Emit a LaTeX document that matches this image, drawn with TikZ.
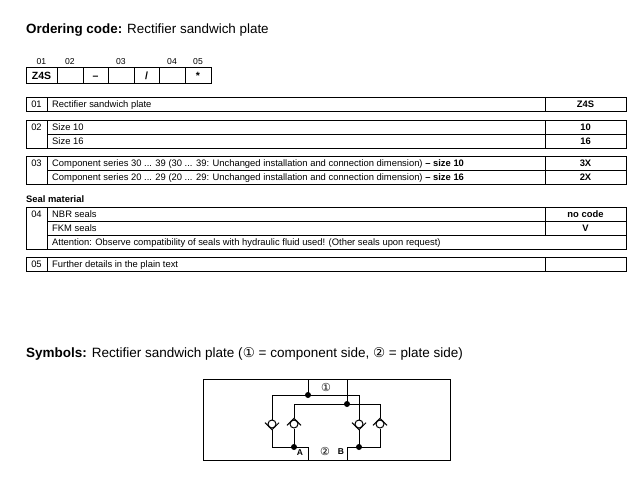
\documentclass[tikz,border=0pt]{standalone}
\usepackage{fontspec}
\setmainfont{Liberation Sans}
\newfontfamily\circfont{DejaVu Sans}
\usepackage{tikz}

\tikzset{
	tblline/.style={line width=0.8pt},
	rowtext/.style={anchor=base west, inner sep=0pt, font=\fontsize{9.4}{11}\selectfont},
	rownum/.style={anchor=base, inner sep=0pt, font=\fontsize{9.4}{11}\selectfont},
	codetext/.style={anchor=base, inner sep=0pt, font=\fontsize{9.4}{11}\selectfont\bfseries},
	pipe/.style={line width=1pt},
	ball/.style={circle, draw, line width=1pt, fill=white, inner sep=0pt, minimum size=8pt},
	junction/.style={circle, fill, inner sep=0pt, minimum size=6pt},
}

\begin{document}
\begin{tikzpicture}[x=1pt,y=-1pt]
\useasboundingbox (0,0) rectangle (640,477);

% ordering code
\node[anchor=base west, inner sep=0pt, font=\fontsize{13.4}{15}\selectfont] (title) at (26,33) {\textbf{Ordering code:} Rectifier sandwich plate};

\foreach \n/\x in {01/41.5,02/70,03/121,04/172,05/198}{
	\node[rownum, font=\fontsize{8.6}{10}\selectfont] (lab\n) at (\x,64) {\n};
}
\draw[tblline] (26,67) rectangle (211,83);
\foreach \x in {57,83,108,134,159,185}{
	\draw[tblline] (\x,67)--(\x,83);
}
\node[codetext, font=\fontsize{10.5}{12}\selectfont\bfseries] (cz4s) at (41.5,79) {Z4S};
\node[codetext, font=\fontsize{10.5}{12}\selectfont\bfseries] (cdash) at (95.5,79) {--};
\node[codetext, font=\fontsize{10.5}{12}\selectfont\bfseries] (cslash) at (146.5,79) {/};
\node[codetext, font=\fontsize{10.5}{12}\selectfont\bfseries] (cstar) at (198,79) {*};

% table frames
\foreach \t/\b in {97/111,120/148,156/184,257/271}{
	\draw[tblline] (26,\t) rectangle (626,\b);
	\draw[tblline] (47,\t)--(47,\b);
	\draw[tblline] (545,\t)--(545,\b);
}
\draw[tblline] (47,134)--(626,134);
\draw[tblline] (47,170)--(626,170);

\draw[tblline] (26,207) rectangle (626,249);
\draw[tblline] (47,207)--(47,249);
\draw[tblline] (545,207)--(545,235);
\draw[tblline] (47,221)--(626,221);
\draw[tblline] (47,235)--(626,235);

% table texts
\node[rownum] (n01) at (36.5,107.5) {01};
\node[rowtext] (t01) at (52,107.5) {Rectifier sandwich plate};
\node[codetext] (k01) at (585.5,107.5) {Z4S};

\node[rownum] (n02) at (36.5,130.5) {02};
\node[rowtext] (t02a) at (52,130.5) {Size 10};
\node[rowtext] (t02b) at (52,144.5) {Size 16};
\node[codetext] (k02a) at (585.5,130.5) {10};
\node[codetext] (k02b) at (585.5,144.5) {16};

\node[rownum] (n03) at (36.5,166.5) {03};
\node[rowtext] (t03a) at (52,166.5) {Component series 30 ... 39 (30 ... 39: Unchanged installation and connection dimension) \textbf{-- size 10}};
\node[rowtext] (t03b) at (52,180.5) {Component series 20 ... 29 (20 ... 29: Unchanged installation and connection dimension) \textbf{-- size 16}};
\node[codetext] (k03a) at (585.5,166.5) {3X};
\node[codetext] (k03b) at (585.5,180.5) {2X};

\node[rowtext, font=\fontsize{9.4}{11}\selectfont\bfseries] (seal) at (26,202.5) {Seal material};

\node[rownum] (n04) at (36.5,217.5) {04};
\node[rowtext] (t04a) at (52,217.5) {NBR seals};
\node[rowtext] (t04b) at (52,231.5) {FKM seals};
\node[rowtext] (t04c) at (52,245.5) {Attention: Observe compatibility of seals with hydraulic fluid used! (Other seals upon request)};
\node[codetext] (k04a) at (585.5,217.5) {no code};
\node[codetext] (k04b) at (585.5,231.5) {V};

\node[rownum] (n05) at (36.5,267.5) {05};
\node[rowtext] (t05) at (52,267.5) {Further details in the plain text};

% symbols
\node[anchor=base west, inner sep=0pt, font=\fontsize{13.5}{15}\selectfont] (symtitle) at (26,357) {\textbf{Symbols:} Rectifier sandwich plate ({\circfont ①} = component side, {\circfont ②} = plate side)};

\draw[pipe] (203,379) rectangle (450,460);

\coordinate (t1) at (308,379);
\coordinate (t2) at (347,379);
\coordinate (al) at (272,395);
\coordinate (ar) at (359,395);
\coordinate (bl) at (294,404);
\coordinate (br) at (380,404);
\coordinate (ll) at (272,447);
\coordinate (pa) at (308,447);
\coordinate (pab) at (308,460);
\coordinate (pb) at (347,447);
\coordinate (pbb) at (347,460);
\coordinate (rr) at (380,447);

% check valves
\foreach \n/\x in {v1/272,v3/359}{
	\node[ball] (\n) at (\x,424) {};
	\draw[pipe] (\x-7,422.7)--(\x,429.7)--(\x+7,422.7);
	\coordinate (\n-s) at (\x,429.7);
}
\foreach \n/\x in {v2/294,v4/380}{
	\node[ball] (\n) at (\x,424) {};
	\draw[pipe] (\x-7,425.3)--(\x,418.3)--(\x+7,425.3);
	\coordinate (\n-s) at (\x,418.3);
}

\node[junction] (j1) at (308,395) {};
\node[junction] (j2) at (347,404) {};
\node[junction] (j3) at (294,447) {};
\node[junction] (j4) at (359,447) {};

\draw[pipe] (t1)--(j1.center);
\draw[pipe] (t2)--(j2.center);
\draw[pipe] (v1)--(al)--(ar)--(v3);
\draw[pipe] (v2-s)--(bl)--(br)--(v4-s);
\draw[pipe] (v1-s)--(ll)--(pa)--(pab);
\draw[pipe] (v2)--(j3.center);
\draw[pipe] (v3-s)--(j4.center);
\draw[pipe] (pbb)--(pb)--(rr)--(v4);

\node[font=\circfont\fontsize{11}{12}\selectfont, inner sep=0pt] (c1) at (326,387) {①};
\node[font=\circfont\fontsize{11}{12}\selectfont, inner sep=0pt] (c2) at (325,451) {②};
\node[font=\fontsize{8.5}{10}\selectfont\bfseries, inner sep=0pt] (porta) at (300,453) {A};
\node[font=\fontsize{8.5}{10}\selectfont\bfseries, inner sep=0pt] (portb) at (341,452) {B};

\end{tikzpicture}
\end{document}
